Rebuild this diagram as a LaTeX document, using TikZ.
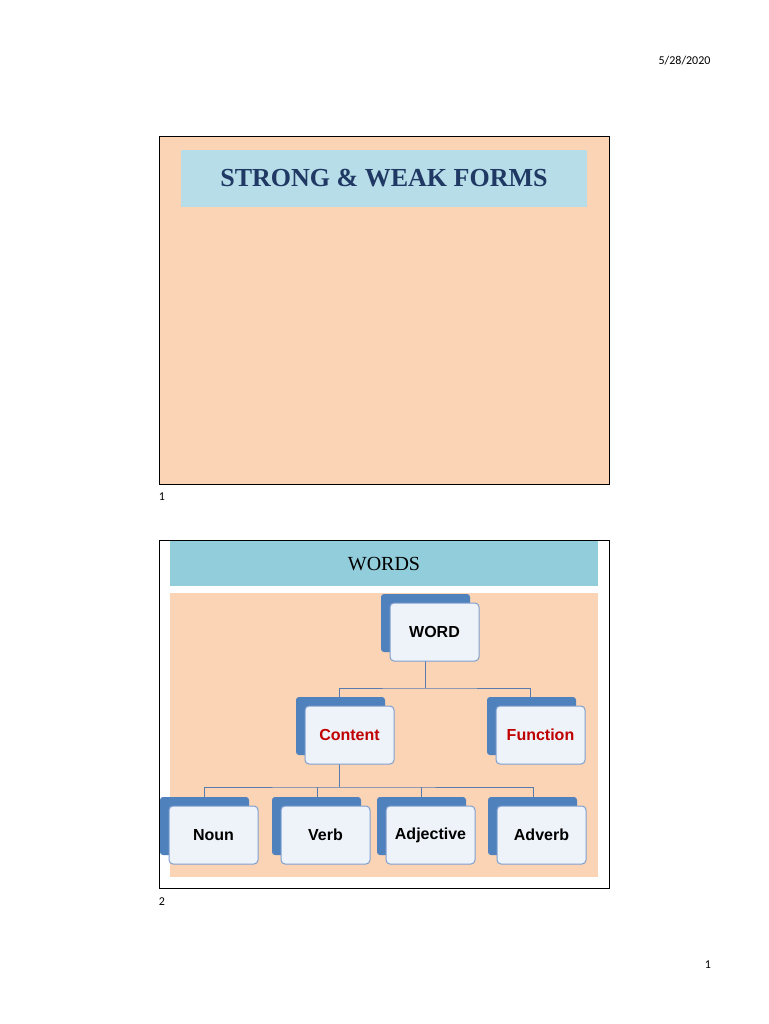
\documentclass[tikz,border=0pt]{standalone}
\usepackage{fontspec}
\setmainfont{Liberation Serif}
\newfontfamily\boxfont{Liberation Sans}
\newfontfamily\numfont{Carlito}
\definecolor{peach}{HTML}{FAD4B4}
\definecolor{band1}{HTML}{B7DEE8}
\definecolor{band2}{HTML}{92CDDC}
\definecolor{navy}{HTML}{1F3864}
\definecolor{backblue}{HTML}{4F81BD}
\definecolor{frontfill}{HTML}{EEF3FA}
\definecolor{frontline}{HTML}{7F9FCF}
\definecolor{redtxt}{HTML}{C00000}
\definecolor{conn}{HTML}{5A7BAE}
\tikzset{
 backbox/.style={fill=backblue,draw=none,rounded corners=3pt},
 frontbox/.style={fill=frontfill,draw=frontline,line width=1pt,rounded corners=4pt},
 lbl/.style={font=\boxfont\bfseries\fontsize{16}{18}\selectfont},
 link/.style={draw=conn,line width=0.9pt},
 small/.style={font=\numfont\fontsize{12}{14}\selectfont}
}
\newcommand{\tbox}[6]{% name, x, y (front top-left), text, color
 \fill[backbox] (#2-9,#3-9) rectangle (#2+80,#3+49);
 \draw[frontbox] (#2,#3) rectangle (#2+89,#3+58);
 \node[lbl,text=#5] (#1) at (#2+44.5,#3+29) {#4};
 \coordinate (#1t) at (#2+#6,#3-9);
 \coordinate (#1b) at (#2+#6,#3+58);
}
\begin{document}
\begin{tikzpicture}[x=1pt,y=-1pt]
\useasboundingbox (0,0) rectangle (768,1024);
\node[small,anchor=east] (date) at (714,61) {5/28/2020};
% slide 1
\draw[fill=peach,line width=0.8pt] (159,136) rectangle (609,484);
\fill[band1] (181,150) rectangle (587,207);
\node[font=\bfseries\fontsize{26}{30}\selectfont,text=navy] (t1) at (384,178) {STRONG \& WEAK FORMS};
\node[small] (n1) at (162,497) {1};
% slide 2
\draw[fill=white,line width=0.8pt] (159,540) rectangle (609,888);
\fill[band2] (170,541) rectangle (598,586);
\node[font=\fontsize{20}{24}\selectfont] (t2) at (384,564) {WORDS};
\fill[peach] (170,593) rectangle (598,877);
% connectors
\coordinate (j1) at (425,688);
\coordinate (j2) at (339,787);
\draw[link] (425,661) -- (j1);
\draw[link] (339,697) |- (j1) -| (530,697);
\draw[link] (339,764) -- (j2);
\draw[link] (204,797) |- (j2) -| (533,797);
\draw[link] (317,787) -- (317,797);
\draw[link] (421,787) -- (421,797);
\tbox{word}{390}{603}{WORD}{black}{35}
\tbox{content}{305}{706}{Content}{redtxt}{34}
\tbox{function}{496}{706}{Function}{redtxt}{34}
\tbox{noun}{169}{806}{Noun}{black}{35}
\tbox{verb}{281}{806}{Verb}{black}{36}
\tbox{adj}{386}{806}{Adjective}{black}{35}
\tbox{adv}{497}{806}{Adverb}{black}{36}
\node[small] (n2) at (162,902) {2};
\node[small] (pg) at (708,965) {1};
\end{tikzpicture}
\end{document}
